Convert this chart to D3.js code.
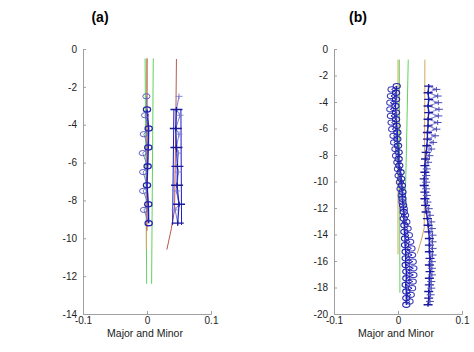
<!DOCTYPE html>
<html>
<head>
<meta charset="utf-8">
<script src="https://cdn.jsdelivr.net/npm/d3@7"></script>
<style>
  body { margin: 0; background: #fff; }
  svg { display: block; }
  .tick text { font-family: "Liberation Sans", Arial, sans-serif; font-size: 10px; fill: #222; }
  .domain, .tick line { stroke: #a0a0a0; }
</style>
</head>
<body>
<div id="chart"></div>
<script>
// ---- panel (a) ----
const aDepthDark = [-3.2, -4.2, -5.2, -6.2, -7.2, -8.2, -9.2];
const aDepthLight = [-2.5, -3.5, -4.5, -5.5, -6.5, -7.5, -8.5];
const aCircDark = [0.0, 0.0026, 0.002, 0.001, 0.0, 0.002, 0.0026];
const aCircLight = [-0.001, -0.003, -0.005, -0.0067, -0.006, -0.006, -0.0047];
const aPlusDark = [0.046, 0.045, 0.046, 0.0475, 0.047, 0.050, 0.048];
const aPlusLight = [0.050, 0.0515, 0.050, 0.049, 0.049, 0.046, 0.044];
const aEnvDepth = [-3.2, -9.3];
const aEnvLeft = [0.042, 0.040];
const aEnvRight = [0.053, 0.054];
const aGreenDepth = [-0.5, -12.4];
const aGreenLeft = [-0.003, -0.0005];
const aGreenRight = [0.0098, 0.0072];
const aOrangeDepth = [-0.5, -10.6];
const aOrange = [0.0, -0.001];
const aRedDepth = [-0.5, -9.6];
const aRed = [0.0, 0.0];
const aRed2Depth = [-0.53, -4, -8.5, -9.5, -10.6];
const aRed2 = [0.046, 0.045, 0.043, 0.038, 0.031];
const aYTicks = [0, -2, -4, -6, -8, -10, -12, -14];

// ---- panel (b) ----
const bDepthDark = [-2.8, -3.3, -3.8, -4.3, -4.8, -5.3, -5.8, -6.3, -6.8, -7.3, -7.8, -8.3, -8.8, -9.3, -9.8, -10.3, -10.8,
  -11.3, -11.8, -12.3, -12.8, -13.3, -13.8, -14.3, -14.8, -15.3, -15.8, -16.3, -16.8, -17.3, -17.8, -18.3, -18.8, -19.3];
const bDepthLight = [-3.05, -3.55, -4.05, -4.55, -5.05, -5.55, -6.05, -6.55, -7.05, -7.55, -8.05, -8.55, -9.05, -9.55, -10.05,
  -10.55, -11.05, -11.55, -12.05, -12.55, -13.05, -13.55, -14.05, -14.55, -15.05, -15.55, -16.05, -16.55, -17.05, -17.55,
  -18.05, -18.55, -19.05];
const bCircDark = [-0.002, -0.003, -0.003, -0.004, -0.003, -0.003, -0.002, -0.001, -0.001, 0.0, 0.001, 0.001, 0.002, 0.004,
  0.005, 0.006, 0.007, 0.007, 0.008, 0.009, 0.009, 0.010, 0.010, 0.011, 0.011, 0.012, 0.012, 0.012, 0.013, 0.013, 0.012,
  0.013, 0.013, 0.013];
const bCircLight = [-0.010, -0.011, -0.012, -0.012, -0.011, -0.010, -0.009, -0.007, -0.006, -0.004, -0.003, -0.001, 0.0,
  0.001, 0.003, 0.004, 0.006, 0.007, 0.009, 0.011, 0.013, 0.015, 0.017, 0.019, 0.021, 0.022, 0.023, 0.024, 0.024, 0.023,
  0.022, 0.020, 0.018];
const bPlusDark = [0.048, 0.047, 0.048, 0.047, 0.048, 0.047, 0.047, 0.046, 0.046, 0.045, 0.044, 0.043, 0.042, 0.042, 0.041,
  0.041, 0.042, 0.042, 0.043, 0.044, 0.046, 0.047, 0.048, 0.049, 0.049, 0.049, 0.050, 0.049, 0.050, 0.049, 0.049, 0.048,
  0.048, 0.047];
const bPlusLight = [0.060, 0.062, 0.063, 0.064, 0.063, 0.062, 0.060, 0.058, 0.055, 0.052, 0.049, 0.047, 0.045, 0.044, 0.044,
  0.044, 0.045, 0.046, 0.048, 0.050, 0.052, 0.053, 0.054, 0.054, 0.054, 0.054, 0.053, 0.053, 0.053, 0.052, 0.052, 0.051,
  0.050];
const bGreenDepth = [-0.8, -18.4];
const bGreenLeft = [0.002, 0.003];
const bGreenRightDepth = [-0.8, -8, -12];
const bGreenRight = [0.016, 0.013, 0.011];
const bOrangeDepth = [-0.8, -15.5];
const bOrange = [0.0, 0.0];
const bRedDepth = [-0.8, -8, -13.5, -14.5, -15.45];
const bRed = [0.042, 0.0415, 0.041, 0.036, 0.030];
const bYTicks = [0, -2, -4, -6, -8, -10, -12, -14, -16, -18, -20];

const xTicks = [-0.1, 0, 0.1];

const W = 474, H = 352;
const svg = d3.select("#chart").append("svg").attr("width", W).attr("height", H);

const font = '"Liberation Sans", Arial, sans-serif';
const green = "#5fd35f", orange = "#d6a65e", red = "#b85a50";
const blueDark = "#1a1ac8", blueLight = "#6c6cd2";

function zip(xs, ys) { return xs.map((v, i) => [v, ys[i]]); }
// both series merged and ordered by depth -> the zigzag line seen in the plot
function merged(xa, ya, xb, yb) {
  return zip(xa, ya).concat(zip(xb, yb)).sort((p, q) => q[1] - p[1]);
}

function drawPanel(cfg) {
  const g = svg.append("g");
  const x = d3.scaleLinear().domain([-0.1, 0.1]).range([cfg.left, cfg.right]);
  const y = d3.scaleLinear().domain([0, cfg.ymin]).range([49, 314]);
  const line = d3.line().x(d => x(d[0])).y(d => y(d[1]));

  // axes (left + bottom only, ticks inward like matlab)
  g.append("g").attr("transform", "translate(" + cfg.left + ",0)")
    .call(d3.axisLeft(y).tickValues(cfg.yTicks).tickSize(-3).tickPadding(6).tickFormat(d => String(d)));
  g.append("g").attr("transform", "translate(0,314)")
    .call(d3.axisBottom(x).tickValues(xTicks).tickSize(-3).tickPadding(3).tickFormat(d => String(d)));

  g.append("text").attr("x", (cfg.left + cfg.right) / 2 - 2).attr("y", 337)
    .attr("text-anchor", "middle").style("font-family", font).style("font-size", "10.5px").attr("fill", "#222")
    .text("Major and Minor");
  g.append("text").attr("x", cfg.titleX).attr("y", 22)
    .attr("text-anchor", "middle").style("font-family", font).style("font-size", "14px").style("font-weight", "bold")
    .text(cfg.title);

  const lines = g.append("g").attr("fill", "none");
  cfg.lines.forEach(l => {
    const pts = l.pts || zip(l.x, l.y);
    lines.append("path").attr("d", line(pts)).attr("stroke", l.color).attr("stroke-width", l.w || 1);
  });

  // circles
  cfg.circles.forEach(s => {
    g.append("g").selectAll("ellipse").data(zip(s.x, s.y)).join("ellipse")
      .attr("cx", d => x(d[0])).attr("cy", d => y(d[1]))
      .attr("rx", s.rx).attr("ry", s.ry)
      .attr("fill", "none").attr("stroke", s.color).attr("stroke-width", s.sw);
  });

  // plus markers
  cfg.plus.forEach(s => {
    g.append("g").selectAll("path").data(zip(s.x, s.y)).join("path")
      .attr("d", d => {
        const cx = x(d[0]), cy = y(d[1]);
        return "M" + (cx - s.hw) + "," + cy + "H" + (cx + s.hw) + "M" + cx + "," + (cy - s.hh) + "V" + (cy + s.hh);
      })
      .attr("stroke", s.color).attr("stroke-width", s.sw).attr("fill", "none");
  });
}

drawPanel({
  left: 83, right: 211, ymin: -14, yTicks: aYTicks, title: "(a)", titleX: 100,
  lines: [
    { x: aGreenLeft, y: aGreenDepth, color: green },
    { x: aGreenRight, y: aGreenDepth, color: green },
    { x: aOrange, y: aOrangeDepth, color: orange },
    { x: aRed, y: aRedDepth, color: red },
    { x: aRed2, y: aRed2Depth, color: red },
    { pts: merged(aCircLight, aDepthLight, aCircDark, aDepthDark), color: blueLight, w: 0.9 },
    { x: aCircDark, y: aDepthDark, color: blueDark, w: 1.5 },
    { x: aEnvLeft, y: aEnvDepth, color: blueDark, w: 1 },
    { x: aEnvRight, y: aEnvDepth, color: blueDark, w: 1 },
    { pts: merged(aPlusLight, aDepthLight, aPlusDark, aDepthDark), color: blueLight, w: 0.9 },
    { x: aPlusDark, y: aDepthDark, color: blueDark, w: 1.2 }
  ],
  circles: [
    { x: aCircLight, y: aDepthLight, color: "#6060c4", rx: 3.6, ry: 2.6, sw: 1 },
    { x: aCircDark, y: aDepthDark, color: "#2424a8", rx: 3.6, ry: 2.6, sw: 1.3 }
  ],
  plus: [
    { x: aPlusLight, y: aDepthLight, color: "#7a7ac8", hw: 3.5, hh: 3, sw: 0.9 },
    { x: aPlusDark, y: aDepthDark, color: "#1a1a9a", hw: 6, hh: 2.5, sw: 1.4 }
  ]
});

drawPanel({
  left: 334, right: 462, ymin: -20, yTicks: bYTicks, title: "(b)", titleX: 358,
  lines: [
    { x: bGreenLeft, y: bGreenDepth, color: green },
    { x: bGreenRight, y: bGreenRightDepth, color: green },
    { x: bOrange, y: bOrangeDepth, color: orange },
    { x: bRed, y: bRedDepth, color: orange },
    { pts: merged(bCircLight, bDepthLight, bCircDark, bDepthDark), color: blueDark, w: 1 },
    { x: bCircDark, y: bDepthDark, color: blueDark, w: 1.4 },
    { pts: merged(bPlusLight, bDepthLight, bPlusDark, bDepthDark), color: blueLight, w: 0.9 },
    { x: bPlusDark, y: bDepthDark, color: blueDark, w: 1.4 }
  ],
  circles: [
    { x: bCircLight, y: bDepthLight, color: "#4040b8", rx: 3.6, ry: 2.6, sw: 1.1 },
    { x: bCircDark, y: bDepthDark, color: "#2424a8", rx: 3.6, ry: 2.6, sw: 1.1 }
  ],
  plus: [
    { x: bPlusLight, y: bDepthLight, color: "#4a4ab4", hw: 4, hh: 2.5, sw: 1 },
    { x: bPlusDark, y: bDepthDark, color: "#1a1aa0", hw: 4.5, hh: 2, sw: 1.3 }
  ]
});
</script>
</body>
</html>
